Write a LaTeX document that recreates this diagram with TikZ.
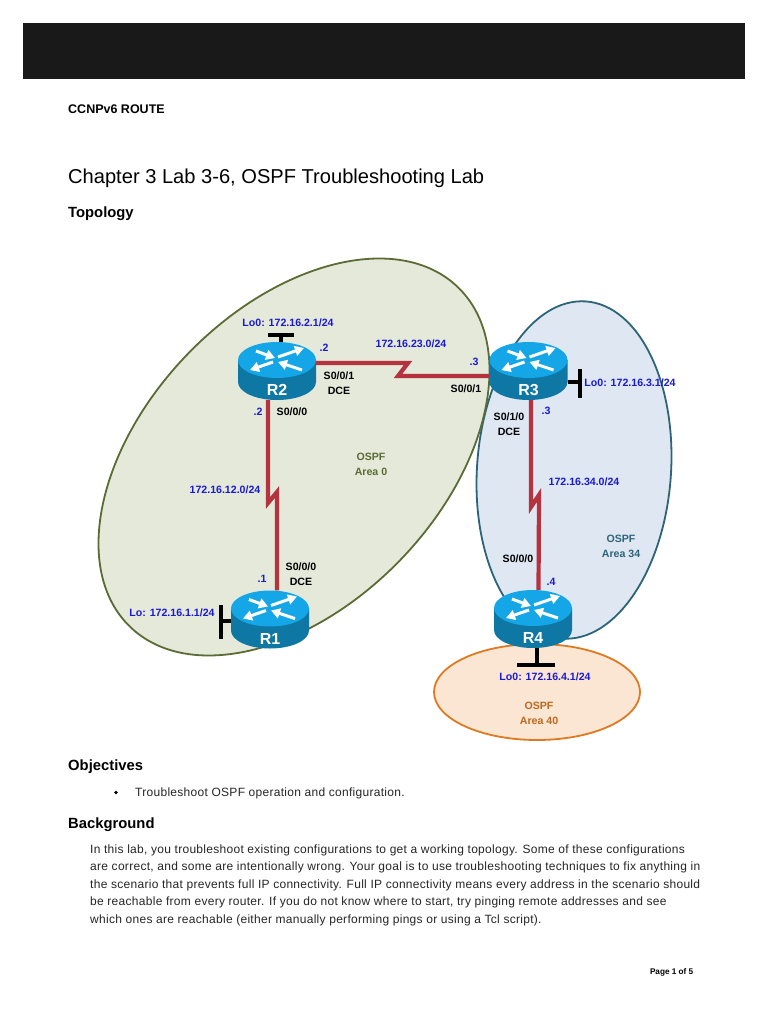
\documentclass[tikz,border=0pt]{standalone}
\usepackage{fontspec}
\usetikzlibrary{arrows.meta}
\setmainfont{Liberation Sans}
\newfontfamily\spaced[LetterSpace=2.4]{Liberation Sans}
\definecolor{linkred}{HTML}{B5323F}
\definecolor{ipblue}{HTML}{1A1AD0}
\definecolor{routertop}{HTML}{14A6E6}
\definecolor{routerside}{HTML}{0F77A3}
\definecolor{area0line}{HTML}{5B6B35}
\definecolor{area0fill}{HTML}{E5E9DA}
\definecolor{area34line}{HTML}{2C6478}
\definecolor{area34fill}{HTML}{DFE7F3}
\definecolor{area40line}{HTML}{DD7A22}
\definecolor{area40fill}{HTML}{FBE6D3}
\tikzset{
  x=1pt,y=-1pt,
  area0/.style={draw=area0line,fill=area0fill,line width=1.8},
  area34/.style={draw=area34line,fill=area34fill,line width=1.8},
  area40/.style={draw=area40line,fill=area40fill,line width=1.8},
  routerbox/.style={minimum width=78,minimum height=58,inner sep=0,draw=none},
  routerarrow/.style={draw=white,line width=3,-{Triangle[length=9,width=10]}},
  serial/.style={draw=linkred,line width=4.2,line join=miter},
  loopback/.style={draw=black,line width=3.2},
  ip/.style={text=ipblue,font=\bfseries\fontsize{10.6}{12}\selectfont,inner sep=0},
  port/.style={text=black,font=\bfseries\fontsize{10.6}{15}\selectfont,inner sep=0,align=center},
  areatext/.style={font=\bfseries\fontsize{10.6}{15}\selectfont,inner sep=0,align=center},
  head/.style={font=\bfseries\fontsize{14.8}{16}\selectfont,anchor=base west,inner sep=0},
  bodytext/.style={font=\spaced\fontsize{12}{14}\selectfont,anchor=base west,inner sep=0,text=black!85},
}
\newcommand{\routerdraw}[3]{%
  \begin{scope}[shift={(#2,#3)}]
    \fill[routerside] (-39,-11) -- (-39,11) arc[start angle=180,end angle=0,x radius=39,y radius=18] -- (39,-11) -- cycle;
    \fill[routertop] (0,-11) ellipse[x radius=39,y radius=18];
    \draw[routerarrow] (-21,-20) -- (-2,-13);
    \draw[routerarrow] (1,-14) -- (27,-23);
    \draw[routerarrow] (-4,-9) -- (-27,-1);
    \draw[routerarrow] (25,-1) -- (1,-9);
    \node[text=white,font=\bfseries\fontsize{16}{18}\selectfont,inner sep=0] at (0,19) {#1};
  \end{scope}}
\begin{document}
\begin{tikzpicture}
\useasboundingbox (0,0) rectangle (768,1024);
\fill[white] (0,0) rectangle (768,1024);
\fill[black!90] (23,23) rectangle (745,79);
\node[font=\bfseries\fontsize{12.5}{14}\selectfont,anchor=base west,inner sep=0] (course) at (68,114) {CCNPv6 ROUTE};
\node[font=\fontsize{20.1}{24}\selectfont,anchor=base west,inner sep=0] (title) at (68,184) {Chapter 3 Lab 3-6, OSPF Troubleshooting Lab};
\node[head] (topo) at (68,218) {Topology};
% areas
\draw[area34,rotate around={-4:(574,470)}] (574,470) ellipse[x radius=97,y radius=169];
\draw[area40] (537,692) ellipse[x radius=103,y radius=48];
\draw[area0,rotate around={46:(294,457)}] (294,457) ellipse[x radius=236,y radius=148];
% routers
\routerdraw{R2}{277}{371}
\routerdraw{R3}{528.5}{371}
\routerdraw{R1}{270}{619.5}
\routerdraw{R4}{533}{619}
\node[routerbox] (R2) at (277,371) {};
\node[routerbox] (R3) at (528.5,371) {};
\node[routerbox] (R1) at (270,619.5) {};
\node[routerbox] (R4) at (533,619) {};
% serial links
\coordinate (z12a) at (268,503);
\coordinate (z12b) at (277,492);
\coordinate (z23a) at (408,363);
\coordinate (z23b) at (398,376);
\coordinate (z34a) at (531,507);
\coordinate (z34b) at (539,495);
\draw[serial] ([xshift=-9]R2.south) -- (z12a) -- (z12b) -- ([xshift=7]R1.north);
\draw[serial] ([yshift=8]R2.east) -- (z23a) -- (z23b) -- ([yshift=-5]R3.west);
\draw[serial] ([xshift=2.5]R3.south) -- (z34a) -- (z34b) -- ([xshift=5.5]R4.north);
% loopbacks
\coordinate (l2a) at (268,335); \coordinate (l2b) at (294,335); \coordinate (l2c) at (281,335);
\coordinate (l3a) at (580,369); \coordinate (l3b) at (580,398); \coordinate (l3c) at (580,382);
\coordinate (l1a) at (221,605); \coordinate (l1b) at (221,639); \coordinate (l1c) at (221,621);
\coordinate (l4a) at (517,665); \coordinate (l4b) at (555,665); \coordinate (l4c) at (537,665);
\draw[loopback] (l2a) -- (l2b); \draw[loopback] ([xshift=4]R2.north) -- (l2c);
\draw[loopback] (l3a) -- (l3b); \draw[loopback] ([yshift=-11]R3.east) -- (l3c);
\draw[loopback] (l1a) -- (l1b); \draw[loopback] ([yshift=-1.5]R1.west) -- (l1c);
\draw[loopback] (l4a) -- (l4b); \draw[loopback] ([xshift=4]R4.south) -- (l4c);
% labels
\node[ip] (t1) at (288,323) {Lo0: 172.16.2.1/24};
\node[ip] (t2) at (324,348) {.2};
\node[ip] (t3) at (411,344) {172.16.23.0/24};
\node[port] (t4) at (339,383.5) {S0/0/1\\DCE};
\node[ip] (t5) at (258,412) {.2};
\node[port] (t6) at (292,412) {S0/0/0};
\node[ip] (t7) at (474,362) {.3};
\node[port] (t8) at (466,389) {S0/0/1};
\node[ip] (t9) at (630,383) {Lo0: 172.16.3.1/24};
\node[ip] (t10) at (546,411) {.3};
\node[port] (t11) at (509,424) {S0/1/0\\DCE};
\node[ip] (t12) at (584,482) {172.16.34.0/24};
\node[areatext,text=area34line] (t13) at (621,546.5) {OSPF\\Area 34};
\node[port] (t14) at (518,559) {S0/0/0};
\node[ip] (t15) at (551,582) {.4};
\node[ip] (t16) at (545,677) {Lo0: 172.16.4.1/24};
\node[areatext,text=area40line!85!black] (t17) at (539,713.5) {OSPF\\Area 40};
\node[ip] (t18) at (225,490) {172.16.12.0/24};
\node[port] (t19) at (301,574) {S0/0/0\\DCE};
\node[ip] (t20) at (262,579) {.1};
\node[ip] (t21) at (172,613) {Lo: 172.16.1.1/24};
\node[areatext,text=area0line] (t22) at (371,464) {OSPF\\Area 0};
% text below
\node[head] (obj) at (68,770) {Objectives};
\fill[black] (116,792.5) circle[radius=1.8];
\node[bodytext] (o1) at (135,796) {Troubleshoot OSPF operation and configuration.};
\node[head] (bg) at (68,828) {Background};
\node[bodytext] (b1) at (90,853) {In this lab, you troubleshoot existing configurations to get a working topology. Some of these configurations};
\node[bodytext] (b2) at (90,870) {are correct, and some are intentionally wrong. Your goal is to use troubleshooting techniques to fix anything in};
\node[bodytext] (b3) at (90,888) {the scenario that prevents full IP connectivity. Full IP connectivity means every address in the scenario should};
\node[bodytext] (b4) at (90,905) {be reachable from every router. If you do not know where to start, try pinging remote addresses and see};
\node[bodytext] (b5) at (90,923) {which ones are reachable (either manually performing pings or using a Tcl script).};
\node[font=\bfseries\fontsize{8.2}{10}\selectfont,anchor=base east,inner sep=0] (pg) at (693.5,974) {Page 1 of 5};
\end{tikzpicture}
\end{document}
